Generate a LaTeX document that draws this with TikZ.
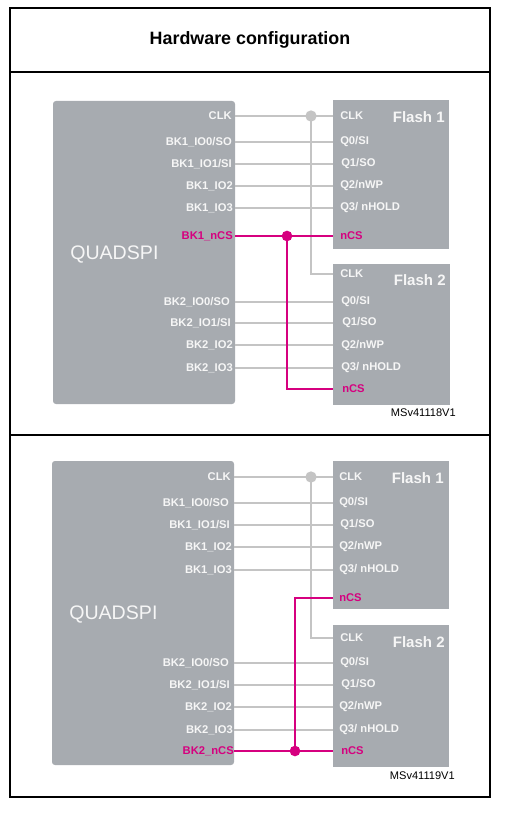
\documentclass[tikz,border=0pt]{standalone}
\usepackage{fontspec}
\setmainfont{Liberation Sans}
\usetikzlibrary{fit}

\definecolor{boxgray}{RGB}{167,171,176}
\definecolor{wiregray}{RGB}{196,196,196}
\definecolor{csmag}{RGB}{214,0,127}
\definecolor{pinwhite}{RGB}{246,246,246}
\definecolor{clkblue}{RGB}{165,195,215}

\tikzset{
  qbox/.style={fill=boxgray, draw=none, rounded corners=2.2pt, inner sep=0pt},
  fbox/.style={fill=boxgray, draw=none, inner sep=0pt},
  qpin/.style={anchor=east, inner sep=0pt, text=pinwhite, font=\fontsize{8.4}{10}\selectfont\bfseries},
  fpin/.style={anchor=west, inner sep=0pt, text=pinwhite, font=\fontsize{8.4}{10}\selectfont\bfseries},
  cspin/.style={text=csmag},
  ftitle/.style={anchor=east, inner sep=0pt, text=pinwhite, font=\fontsize{11.3}{13}\selectfont\bfseries},
  qtitle/.style={anchor=west, inner sep=0pt, text=pinwhite, font=\fontsize{14.7}{17}\selectfont},
  refcode/.style={anchor=east, inner sep=0pt, font=\fontsize{8.3}{10}\selectfont},
  wire/.style={draw=wiregray, line width=1.1pt},
  cswire/.style={draw=csmag, line width=1.5pt},
  gdot/.style={circle, fill=wiregray, inner sep=0pt, minimum size=8.5pt},
  mdot/.style={circle, fill=csmag, inner sep=0pt, minimum size=8pt}
}

\begin{document}
\begin{tikzpicture}[x=0.75pt,y=0.75pt,yscale=-1,xscale=1]
        \useasboundingbox (0,0) rectangle (512,813);

        %Frame
        \draw [line width=0.9pt] (10,8) rectangle (490,797) ;
        \draw [line width=1.6pt] (10,72) -- (490,72) ;
        \draw [line width=1.2pt] (10,435) -- (490,435) ;
        \node [font=\fontsize{13.4}{16}\selectfont\bfseries] (head) at (250,40) {Hardware configuration};

        %----------------------------- upper configuration
        %Shape: Rectangle [QUADSPI]
        \coordinate (quadAnw) at (53,101) ;
        \coordinate (quadAse) at (235,404) ;
        \node [qbox, fit=(quadAnw)(quadAse)] (quadA) {};
        %Shape: Rectangle [Flash 1]
        \coordinate (flA1nw) at (333,100) ;
        \coordinate (flA1se) at (449,249) ;
        \node [fbox, fit=(flA1nw)(flA1se)] (flA1) {};
        %Shape: Rectangle [Flash 2]
        \coordinate (flA2nw) at (333,264) ;
        \coordinate (flA2se) at (450,405) ;
        \node [fbox, fit=(flA2nw)(flA2se)] (flA2) {};

        \node [qtitle] (quadAt) at (70,255) {QUADSPI};
        \node [ftitle] (flA1t) at (445,117) {Flash 1};
        \node [ftitle] (flA2t) at (446,280) {Flash 2};
        \node [refcode] (refA) at (456,413) {MSv41118V1};

        %QUADSPI pins
        \node [qpin] (aclk) at (232,116) {CLK};
        \node [qpin] (aio0) at (232,142) {BK1\_IO0/SO};
        \node [qpin] (aio1) at (232,164) {BK1\_IO1/SI};
        \node [qpin] (aio2) at (233,186) {BK1\_IO2};
        \node [qpin] (aio3) at (233,208) {BK1\_IO3};
        \node [qpin, cspin] (ancs) at (233,236) {BK1\_nCS};
        \node [qpin] (bio0a) at (230,302) {BK2\_IO0/SO};
        \node [qpin] (bio1a) at (231,323) {BK2\_IO1/SI};
        \node [qpin] (bio2a) at (233,345) {BK2\_IO2};
        \node [qpin] (bio3a) at (233,368) {BK2\_IO3};

        %Flash 1 pins
        \node [fpin] (fa1clk) at (340,116) {CLK};
        \node [fpin] (fa1q0) at (340,142) {Q0/SI};
        \node [fpin] (fa1q1) at (341,164) {Q1/SO};
        \node [fpin] (fa1q2) at (340,186) {Q2/nWP};
        \node [fpin] (fa1q3) at (340,208) {Q3/ nHOLD};
        \node [fpin, cspin] (fa1ncs) at (340,236) {nCS};
        %Flash 2 pins
        \node [fpin] (fa2clk) at (340,274) {CLK};
        \node [fpin] (fa2q0) at (341,302) {Q0/SI};
        \node [fpin] (fa2q1) at (342,323) {Q1/SO};
        \node [fpin] (fa2q2) at (341,346) {Q2/nWP};
        \node [fpin] (fa2q3) at (341,368) {Q3/ nHOLD};
        \node [fpin, cspin] (fa2ncs) at (342,389) {nCS};

        %Straight Lines
        \draw [wire] (quadA.east |- aclk) -- (flA1.west |- aclk) ;
        \draw [wire] (quadA.east |- aio0) -- (flA1.west |- aio0) ;
        \draw [wire] (quadA.east |- aio1) -- (flA1.west |- aio1) ;
        \draw [wire] (quadA.east |- aio2) -- (flA1.west |- aio2) ;
        \draw [wire] (quadA.east |- aio3) -- (flA1.west |- aio3) ;
        \draw [wire] (quadA.east |- bio0a) -- (flA2.west |- bio0a) ;
        \draw [wire] (quadA.east |- bio1a) -- (flA2.west |- bio1a) ;
        \draw [wire] (quadA.east |- bio2a) -- (flA2.west |- bio2a) ;
        \draw [wire] (quadA.east |- bio3a) -- (flA2.west |- bio3a) ;
        %Shape: Circle [CLK junction]
        \node [gdot] (aclkj) at (311,116) {};
        \draw [wire] (aclkj.center) |- (flA2.west |- fa2clk) ;
        %nCS
        \draw [cswire] (quadA.east |- ancs) -- (flA1.west |- ancs) ;
        \node [mdot] (acsj) at (287,236) {};
        \draw [cswire] (acsj.center) |- (flA2.west |- fa2ncs) ;

        %----------------------------- lower configuration
        %Shape: Rectangle [QUADSPI]
        \coordinate (quadBnw) at (52,461) ;
        \coordinate (quadBse) at (234,765) ;
        \node [qbox, fit=(quadBnw)(quadBse)] (quadB) {};
        %Shape: Rectangle [Flash 1]
        \coordinate (flB1nw) at (333,461) ;
        \coordinate (flB1se) at (449,609) ;
        \node [fbox, fit=(flB1nw)(flB1se)] (flB1) {};
        %Shape: Rectangle [Flash 2]
        \coordinate (flB2nw) at (333,625) ;
        \coordinate (flB2se) at (449,767) ;
        \node [fbox, fit=(flB2nw)(flB2se)] (flB2) {};

        \node [qtitle] (quadBt) at (69,615) {QUADSPI};
        \node [ftitle] (flB1t) at (444,478) {Flash 1};
        \node [ftitle] (flB2t) at (445,642) {Flash 2};
        \node [refcode] (refB) at (455,776) {MSv41119V1};

        %QUADSPI pins
        \node [qpin] (bclk) at (231,477) {CLK};
        \node [qpin] (bio0) at (229,503) {BK1\_IO0/SO};
        \node [qpin] (bio1) at (230,525) {BK1\_IO1/SI};
        \node [qpin] (bio2) at (232,547) {BK1\_IO2};
        \node [qpin] (bio3) at (232,570) {BK1\_IO3};
        \node [qpin] (cio0) at (229,663) {BK2\_IO0/SO};
        \node [qpin] (cio1) at (230,685) {BK2\_IO1/SI};
        \node [qpin] (cio2) at (232,707) {BK2\_IO2};
        \node [qpin] (cio3) at (233,730) {BK2\_IO3};
        \node [qpin, cspin] (bncs2) at (234,751) {BK2\_nCS};

        %Flash 1 pins
        \node [fpin] (fb1clk) at (339,477) {CLK};
        \node [fpin] (fb1q0) at (339,503) {Q0/SI};
        \node [fpin] (fb1q1) at (340,525) {Q1/SO};
        \node [fpin] (fb1q2) at (339,547) {Q2/nWP};
        \node [fpin] (fb1q3) at (339,570) {Q3/ nHOLD};
        \node [fpin, cspin] (fb1ncs) at (339,598) {nCS};
        %Flash 2 pins
        \node [fpin] (fb2clk) at (340,638) {CLK};
        \node [fpin] (fb2q0) at (340,663) {Q0/SI};
        \node [fpin] (fb2q1) at (341,685) {Q1/SO};
        \node [fpin] (fb2q2) at (339,707) {Q2/nWP};
        \node [fpin] (fb2q3) at (339,730) {Q3/ nHOLD};
        \node [fpin, cspin] (fb2ncs) at (341,751) {nCS};

        %Straight Lines
        \draw [wire] (quadB.east |- bclk) -- (flB1.west |- bclk) ;
        \draw [wire] (quadB.east |- bio0) -- (flB1.west |- bio0) ;
        \draw [wire] (quadB.east |- bio1) -- (flB1.west |- bio1) ;
        \draw [wire] (quadB.east |- bio2) -- (flB1.west |- bio2) ;
        \draw [wire] (quadB.east |- bio3) -- (flB1.west |- bio3) ;
        \draw [wire] (quadB.east |- cio0) -- (flB2.west |- cio0) ;
        \draw [wire] (quadB.east |- cio1) -- (flB2.west |- cio1) ;
        \draw [wire] (quadB.east |- cio2) -- (flB2.west |- cio2) ;
        \draw [wire] (quadB.east |- cio3) -- (flB2.west |- cio3) ;
        %Shape: Circle [CLK junction]
        \node [gdot] (bclkj) at (311,477) {};
        \draw [wire] (bclkj.center) |- (flB2.west |- fb2clk) ;
        %nCS
        \draw [cswire] (quadB.east |- bncs2) -- (flB2.west |- bncs2) ;
        \node [mdot] (bcsj) at (295,751) {};
        \draw [cswire] (bcsj.center) |- (flB1.west |- fb1ncs) ;

\end{tikzpicture}
\end{document}
